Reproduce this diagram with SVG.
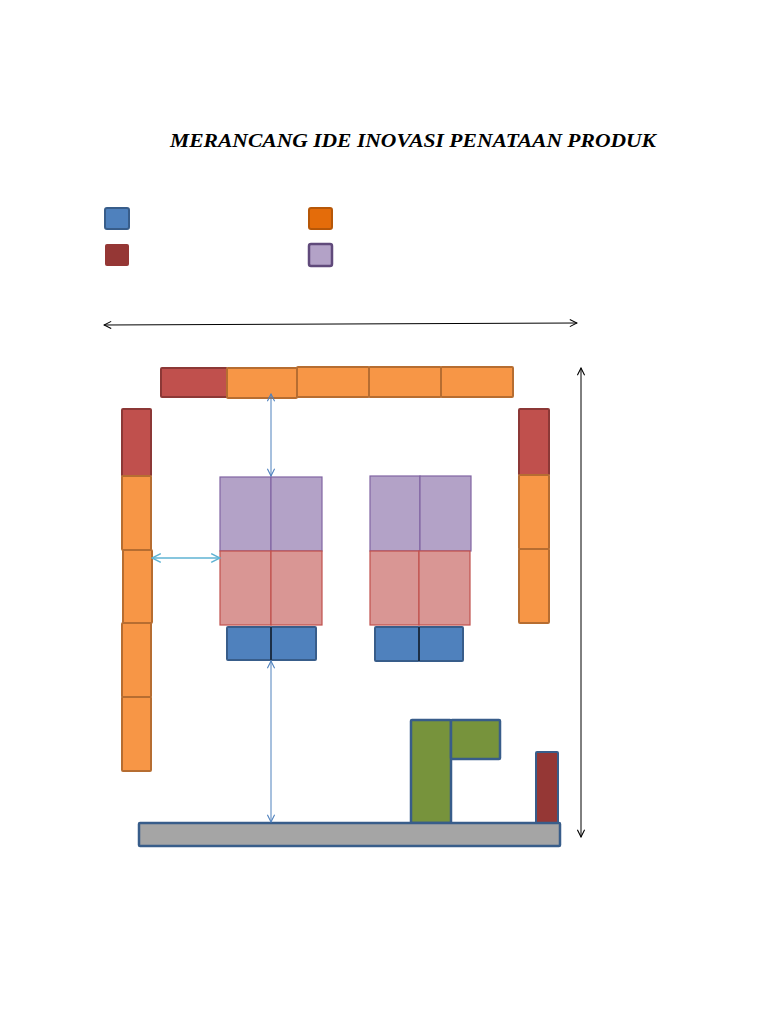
<svg xmlns="http://www.w3.org/2000/svg" width="768" height="1024" viewBox="0 0 768 1024">
<defs>
<style>
.or{fill:#f79646;stroke:#b66d31;stroke-width:2}
.rd{fill:#c0504d;stroke:#8c3836;stroke-width:2}
.pu{fill:#b3a2c7;stroke:#8064a2;stroke-width:1.2}
.pk{fill:#d99694;stroke:#c0504d;stroke-width:1.2}
.bl{fill:#4f81bd;stroke:#385d8a;stroke-width:2}
.gr{fill:#77933c;stroke:#385d8a;stroke-width:2.5}
.title{font-family:"Liberation Serif","DejaVu Serif",serif;font-weight:bold;font-style:italic;font-size:19.5px;fill:#000}
</style>
<marker id="ab" viewBox="0 0 10 10" refX="9" refY="5" markerWidth="9" markerHeight="9" orient="auto-start-reverse" markerUnits="userSpaceOnUse"><path d="M1,1 L9,5 L1,9" fill="none" stroke="#000" stroke-width="1.2"/></marker>
<marker id="ablue" viewBox="0 0 10 10" refX="9" refY="5" markerWidth="9" markerHeight="9" orient="auto-start-reverse" markerUnits="userSpaceOnUse"><path d="M1,1 L9,5 L1,9" fill="none" stroke="#4f81bd" stroke-width="1.2"/></marker>
<marker id="acyan" viewBox="0 0 10 10" refX="9" refY="5" markerWidth="11" markerHeight="11" orient="auto-start-reverse" markerUnits="userSpaceOnUse"><path d="M1,1 L9,5 L1,9" fill="none" stroke="#5fb3d3" stroke-width="1.3"/></marker>
</defs>
<rect width="768" height="1024" fill="#fff"/>
<text class="title" x="170" y="147" textLength="486" lengthAdjust="spacingAndGlyphs">MERANCANG IDE INOVASI PENATAAN PRODUK</text>

<g id="legend">
<rect x="105" y="208" width="24" height="21" rx="2" fill="#4f81bd" stroke="#385d8a" stroke-width="2"/>
<rect x="105" y="244" width="24" height="22" rx="2" fill="#953735"/>
<rect x="309" y="208" width="23" height="21" rx="2" fill="#e46c0a" stroke="#b65708" stroke-width="2"/>
<rect x="309" y="244" width="23" height="22" rx="2" fill="#b3a2c7" stroke="#604a7b" stroke-width="2.5"/>
</g>

<g id="top-row">
<rect class="rd" x="161" y="368" width="66" height="29" rx="1"/>
<rect class="or" x="297" y="367" width="72" height="30" rx="1"/>
<rect class="or" x="369" y="367" width="72" height="30" rx="1"/>
<rect class="or" x="441" y="367" width="72" height="30" rx="1"/>
<rect class="or" x="227" y="368" width="70" height="30" rx="1"/>
</g>

<g id="left-column">
<rect class="rd" x="122" y="409" width="29" height="67" rx="1"/>
<rect class="or" x="122" y="476" width="29" height="74" rx="1"/>
<rect class="or" x="122" y="623" width="29" height="74" rx="1"/>
<rect class="or" x="122" y="697" width="29" height="74" rx="1"/>
<rect class="or" x="123" y="550" width="29" height="73" rx="1"/>
</g>

<g id="right-column">
<rect class="rd" x="519" y="409" width="30" height="66" rx="1"/>
<rect class="or" x="519" y="475" width="30" height="74" rx="1"/>
<rect class="or" x="519" y="549" width="30" height="74" rx="1"/>
</g>

<g id="cluster-left">
<rect class="pu" x="220" y="477" width="51" height="74"/>
<rect class="pu" x="271" y="477" width="51" height="74"/>
<rect class="pk" x="220" y="551" width="51" height="74"/>
<rect class="pk" x="271" y="551" width="51" height="74"/>
<rect class="bl" x="227" y="627" width="44" height="33" rx="1"/>
<rect class="bl" x="271" y="627" width="45" height="33" rx="1"/>
<line x1="271" y1="627" x2="271" y2="660" stroke="#000" stroke-width="1"/>
</g>

<g id="cluster-right">
<rect class="pu" x="370" y="476" width="50" height="75"/>
<rect class="pu" x="420" y="476" width="51" height="75"/>
<rect class="pk" x="370" y="551" width="49" height="74"/>
<rect class="pk" x="419" y="551" width="51" height="74"/>
<rect class="bl" x="375" y="627" width="44" height="34" rx="1"/>
<rect class="bl" x="419" y="627" width="44" height="34" rx="1"/>
<line x1="419" y1="627" x2="419" y2="661" stroke="#000" stroke-width="1"/>
</g>

<g id="floor-and-shelf">
<rect class="gr" x="411" y="720" width="40" height="103" rx="1"/>
<rect class="gr" x="451" y="720" width="49" height="39" rx="1"/>
<rect x="536" y="752" width="22" height="71" rx="1" fill="#953735" stroke="#385d8a" stroke-width="2"/>
<rect x="139" y="823" width="421" height="23" rx="1" fill="#a5a5a5" stroke="#385d8a" stroke-width="2.5"/>
</g>

<g id="connectors" fill="none">
<line x1="104" y1="325" x2="577" y2="323" stroke="#000" stroke-width="1" marker-start="url(#ab)" marker-end="url(#ab)"/>
<line x1="581" y1="368" x2="581" y2="837" stroke="#000" stroke-width="1" marker-start="url(#ab)" marker-end="url(#ab)"/>
<line x1="271" y1="394" x2="271" y2="476" stroke="#4f81bd" stroke-width="1" marker-start="url(#ablue)" marker-end="url(#ablue)"/>
<line x1="271" y1="661" x2="271" y2="822" stroke="#4f81bd" stroke-width="1" marker-start="url(#ablue)" marker-end="url(#ablue)"/>
<line x1="152" y1="558" x2="220" y2="558" stroke="#5fb3d3" stroke-width="1.3" marker-start="url(#acyan)" marker-end="url(#acyan)"/>
</g>
</svg>
